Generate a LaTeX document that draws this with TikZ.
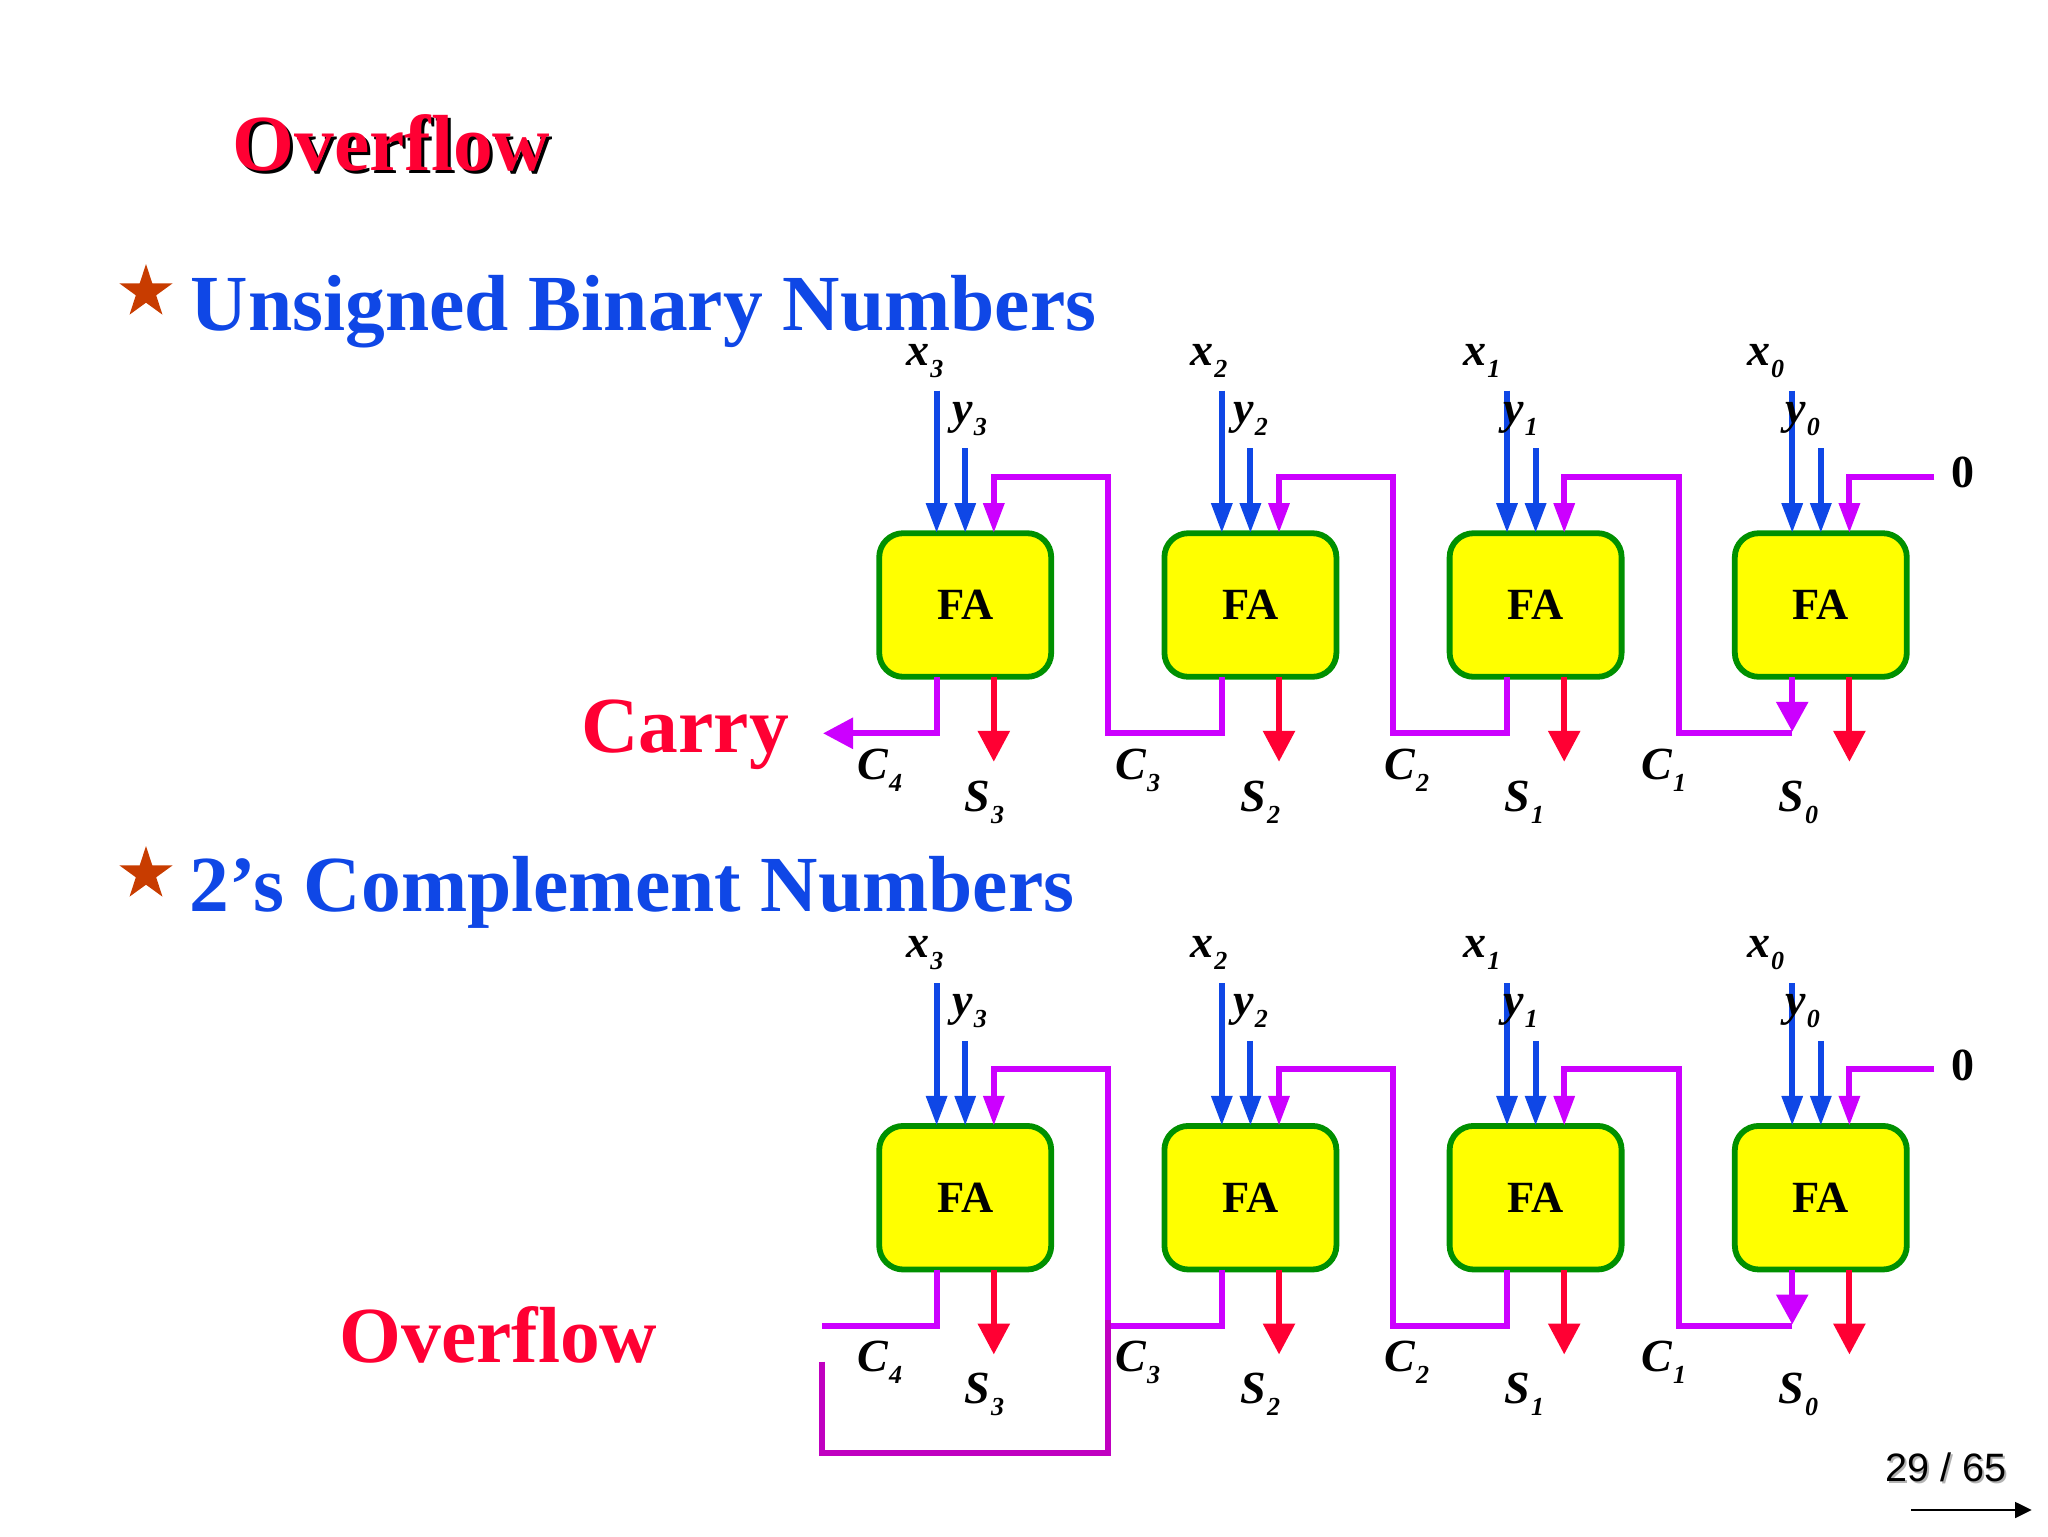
\documentclass[tikz,border=0pt]{standalone}
\usepackage{fontspec}
\setmainfont{Liberation Serif}
\setsansfont{Liberation Sans}
\usepackage{tikz}
\usetikzlibrary{arrows.meta, positioning, shapes.geometric}

\definecolor{wireblue}{HTML}{0F47E6}
\definecolor{wirepurple}{HTML}{CC00FF}
\definecolor{wiredark}{HTML}{C000C0}
\definecolor{wirered}{HTML}{FF0033}
\definecolor{fagreen}{HTML}{009000}
\definecolor{fayellow}{HTML}{FFFF00}
\definecolor{starred}{HTML}{C83C00}

\newcommand{\wirelabel}[2]{#1\kern0.5pt\raisebox{-6pt}{\fontsize{13}{13}\selectfont #2}}

\begin{document}
\begin{tikzpicture}[
        x=0.5pt, y=-0.5pt,
        node distance=142.6pt,
        fa/.style={rectangle, draw=fagreen, fill=fayellow, line width=2.9pt, rounded corners=12pt,
                    minimum width=86pt, minimum height=71.8pt, inner sep=0pt, outer sep=0pt,
                    font=\fontsize{22.3}{22}\selectfont\bfseries},
        wirelbl/.style={anchor=base west, inner sep=0pt, font=\fontsize{23}{23}\selectfont\bfseries\itshape},
        zerolbl/.style={anchor=base, inner sep=0pt, font=\fontsize{23}{23}\selectfont\bfseries},
        heading/.style={anchor=base west, inner sep=0pt, text=wireblue, font=\fontsize{39.75}{40}\selectfont\bfseries},
        redlbl/.style={anchor=base west, inner sep=0pt, text=wirered, font=\fontsize{39.75}{40}\selectfont\bfseries},
        bullet/.style={star, star points=5, star point ratio=2.618, fill=starred, minimum size=28pt, inner sep=0pt},
        pagelbl/.style={anchor=base west, inner sep=0pt, font=\fontsize{19.8}{20}\selectfont\sffamily},
        inarrow/.style={line width=3pt, wireblue, -{Triangle[length=15pt, width=10pt]}},
        carryin/.style={line width=3pt, wirepurple, miter limit=10, -{Triangle[length=15pt, width=10pt]}},
        carryout/.style={line width=3pt, wirepurple, -{Triangle[length=15pt, width=15.5pt]}},
        carrywire/.style={line width=3pt, wirepurple},
        sumarrow/.style={line width=3pt, wirered, -{Triangle[length=15.5pt, width=15.5pt]}},
        backwire/.style={line width=3pt, wiredark}
    ]
        \useasboundingbox (0,0) rectangle (2048,1536);

        % titles
        \node[redlbl, text=black] (titleshadow) at (235,173) {Overflow};
        \node[redlbl] (title) at (232,170) {Overflow};
        \node[bullet] (startop) at (146,292) {};
        \node[heading] (unsigned) at (190.5,330) {Unsigned Binary Numbers};
        \node[bullet] (starbot) at (146,874) {};
        \node[heading] (complement) at (189.5,911) {2’s Complement Numbers};
        \node[redlbl] (carry) at (581,752) {Carry};
        \node[redlbl] (overflow) at (339,1362) {Overflow};

        % adders
        \node[fa] (topfa3) at (965.2,605) {\raisebox{-0.5pt}{FA}};
        \node[fa, right of=topfa3] (topfa2) {\raisebox{-0.5pt}{FA}};
        \node[fa, right of=topfa2] (topfa1) {\raisebox{-0.5pt}{FA}};
        \node[fa, right of=topfa1] (topfa0) {\raisebox{-0.5pt}{FA}};
        \node[fa] (botfa3) at (965.2,1197.7) {\raisebox{-0.5pt}{FA}};
        \node[fa, right of=botfa3] (botfa2) {\raisebox{-0.5pt}{FA}};
        \node[fa, right of=botfa2] (botfa1) {\raisebox{-0.5pt}{FA}};
        \node[fa, right of=botfa1] (botfa0) {\raisebox{-0.5pt}{FA}};

        % upper row, inputs
        \draw[inarrow] ([shift={(-28.6,-142.5)}]topfa3.north) -- ([xshift=-14.3pt]topfa3.north);
        \draw[inarrow] ([shift={(0,-85)}]topfa3.north) -- (topfa3.north);
        \draw[inarrow] ([shift={(-28.6,-142.5)}]topfa2.north) -- ([xshift=-14.3pt]topfa2.north);
        \draw[inarrow] ([shift={(0,-85)}]topfa2.north) -- (topfa2.north);
        \draw[inarrow] ([shift={(-28.6,-142.5)}]topfa1.north) -- ([xshift=-14.3pt]topfa1.north);
        \draw[inarrow] ([shift={(0,-85)}]topfa1.north) -- (topfa1.north);
        \draw[inarrow] ([shift={(-28.6,-142.5)}]topfa0.north) -- ([xshift=-14.3pt]topfa0.north);
        \draw[inarrow] ([shift={(0,-85)}]topfa0.north) -- (topfa0.north);

        % upper row, carries
        \coordinate (carrytip) at (823,733.3);
        \draw[carryin] ([xshift=-14.3pt]topfa2.south) -- ++(0,56.5) -| ++(-113.6,-256.6) -| ([xshift=14.3pt]topfa3.north);
        \draw[carryin] ([xshift=-14.3pt]topfa1.south) -- ++(0,56.5) -| ++(-113.6,-256.6) -| ([xshift=14.3pt]topfa2.north);
        \draw[carryin] ([shift={(-28.6,56.5)}]topfa0.south) -| ++(-113.6,-256.6) -| ([xshift=14.3pt]topfa1.north);
        \draw[carryin] ([shift={(113.5,-56.5)}]topfa0.north) -| ([xshift=14.3pt]topfa0.north);
        \draw[carryout] ([xshift=-14.3pt]topfa0.south) -- ++(0,55);
        \draw[carryout, -{Triangle[length=15pt, width=15pt]}] ([xshift=-14.3pt]topfa3.south) |- (carrytip);

        % upper row, sums
        \draw[sumarrow] ([xshift=14.3pt]topfa3.south) -- ++(0,85);
        \draw[sumarrow] ([xshift=14.3pt]topfa2.south) -- ++(0,85);
        \draw[sumarrow] ([xshift=14.3pt]topfa1.south) -- ++(0,85);
        \draw[sumarrow] ([xshift=14.3pt]topfa0.south) -- ++(0,85);

        % lower row, inputs
        \draw[inarrow] ([shift={(-28.6,-142.5)}]botfa3.north) -- ([xshift=-14.3pt]botfa3.north);
        \draw[inarrow] ([shift={(0,-85)}]botfa3.north) -- (botfa3.north);
        \draw[inarrow] ([shift={(-28.6,-142.5)}]botfa2.north) -- ([xshift=-14.3pt]botfa2.north);
        \draw[inarrow] ([shift={(0,-85)}]botfa2.north) -- (botfa2.north);
        \draw[inarrow] ([shift={(-28.6,-142.5)}]botfa1.north) -- ([xshift=-14.3pt]botfa1.north);
        \draw[inarrow] ([shift={(0,-85)}]botfa1.north) -- (botfa1.north);
        \draw[inarrow] ([shift={(-28.6,-142.5)}]botfa0.north) -- ([xshift=-14.3pt]botfa0.north);
        \draw[inarrow] ([shift={(0,-85)}]botfa0.north) -- (botfa0.north);

        % lower row, carries
        \draw[carryin] ([xshift=-14.3pt]botfa2.south) -- ++(0,56.5) -| ++(-113.6,-256.6) -| ([xshift=14.3pt]botfa3.north);
        \draw[carryin] ([xshift=-14.3pt]botfa1.south) -- ++(0,56.5) -| ++(-113.6,-256.6) -| ([xshift=14.3pt]botfa2.north);
        \draw[carryin] ([shift={(-28.6,56.5)}]botfa0.south) -| ++(-113.6,-256.6) -| ([xshift=14.3pt]botfa1.north);
        \draw[carryin] ([shift={(113.5,-56.5)}]botfa0.north) -| ([xshift=14.3pt]botfa0.north);
        \draw[carryout] ([xshift=-14.3pt]botfa0.south) -- ++(0,55);
        \draw[carrywire] ([xshift=-14.3pt]botfa3.south) |- ++(-114.4,56.5);
        \draw[backwire] ([shift={(-143.2,92)}]botfa3.south) |- ++(286.2,91.6) -- ++(0,-133.3);

        % lower row, sums
        \draw[sumarrow] ([xshift=14.3pt]botfa3.south) -- ++(0,85);
        \draw[sumarrow] ([xshift=14.3pt]botfa2.south) -- ++(0,85);
        \draw[sumarrow] ([xshift=14.3pt]botfa1.south) -- ++(0,85);
        \draw[sumarrow] ([xshift=14.3pt]botfa0.south) -- ++(0,85);

        % upper row, labels
        \node[wirelbl] (topx3) at (906,365) {\wirelabel{x}{3}};
        \node[wirelbl] (topx2) at (1190,365) {\wirelabel{x}{2}};
        \node[wirelbl] (topx1) at (1463,365) {\wirelabel{x}{1}};
        \node[wirelbl] (topx0) at (1746.7,365) {\wirelabel{x}{0}};
        \node[wirelbl] (topy3) at (952,423) {\wirelabel{y}{3}};
        \node[wirelbl] (topy2) at (1233,423) {\wirelabel{y}{2}};
        \node[wirelbl] (topy1) at (1503,423) {\wirelabel{y}{1}};
        \node[wirelbl] (topy0) at (1785,423) {\wirelabel{y}{0}};
        \node[wirelbl] (topc4) at (857,779) {\wirelabel{C}{4}};
        \node[wirelbl] (topc3) at (1115,779) {\wirelabel{C}{3}};
        \node[wirelbl] (topc2) at (1384,779) {\wirelabel{C}{2}};
        \node[wirelbl] (topc1) at (1641,779) {\wirelabel{C}{1}};
        \node[wirelbl] (tops3) at (964,811) {\wirelabel{S}{3}};
        \node[wirelbl] (tops2) at (1240,811) {\wirelabel{S}{2}};
        \node[wirelbl] (tops1) at (1504,811) {\wirelabel{S}{1}};
        \node[wirelbl] (tops0) at (1778,811) {\wirelabel{S}{0}};
        \node[zerolbl] (topzero) at (1962.7,487.7) {0};

        % lower row, labels
        \node[wirelbl] (botx3) at (906,957.7) {\wirelabel{x}{3}};
        \node[wirelbl] (botx2) at (1190,957.7) {\wirelabel{x}{2}};
        \node[wirelbl] (botx1) at (1463,957.7) {\wirelabel{x}{1}};
        \node[wirelbl] (botx0) at (1746.7,957.7) {\wirelabel{x}{0}};
        \node[wirelbl] (boty3) at (952,1015.7) {\wirelabel{y}{3}};
        \node[wirelbl] (boty2) at (1233,1015.7) {\wirelabel{y}{2}};
        \node[wirelbl] (boty1) at (1503,1015.7) {\wirelabel{y}{1}};
        \node[wirelbl] (boty0) at (1785,1015.7) {\wirelabel{y}{0}};
        \node[wirelbl] (botc4) at (857,1371.7) {\wirelabel{C}{4}};
        \node[wirelbl] (botc3) at (1115,1371.7) {\wirelabel{C}{3}};
        \node[wirelbl] (botc2) at (1384,1371.7) {\wirelabel{C}{2}};
        \node[wirelbl] (botc1) at (1641,1371.7) {\wirelabel{C}{1}};
        \node[wirelbl] (bots3) at (964,1403.7) {\wirelabel{S}{3}};
        \node[wirelbl] (bots2) at (1240,1403.7) {\wirelabel{S}{2}};
        \node[wirelbl] (bots1) at (1504,1403.7) {\wirelabel{S}{1}};
        \node[wirelbl] (bots0) at (1778,1403.7) {\wirelabel{S}{0}};
        \node[zerolbl] (botzero) at (1962.7,1080.4) {0};

        % page number
        \node[pagelbl, text=black!30] (pageshadow) at (1887,1483.2) {29 / 65};
        \node[pagelbl] (pagenum) at (1885.5,1481.7) {29 / 65};
        \coordinate (nextstart) at (1911,1510);
        \coordinate (nextend) at (2031.7,1510);
        \draw[line width=0.75pt, -{Triangle[length=8.3pt, width=8pt]}] (nextstart) -- (nextend);
    \end{tikzpicture}
\end{document}
